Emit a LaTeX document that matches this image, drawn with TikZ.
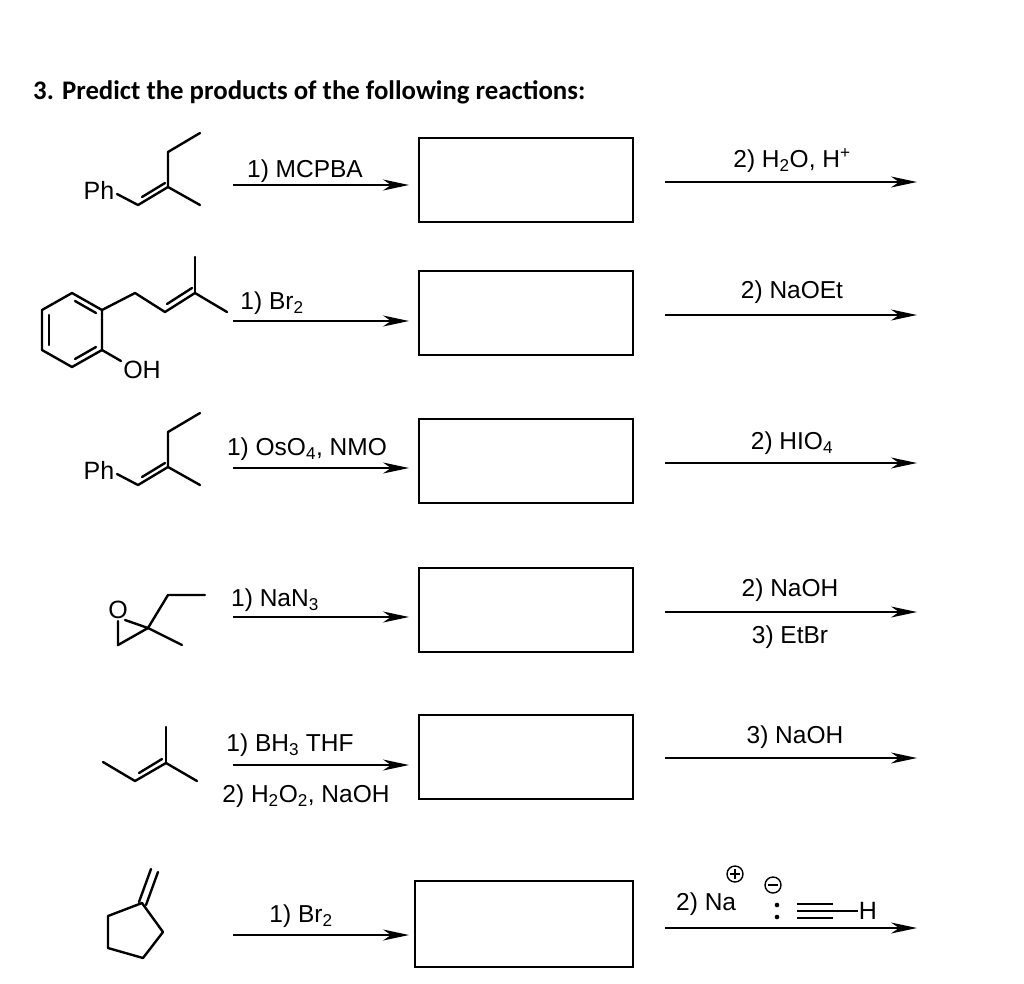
\documentclass[tikz,border=0pt]{standalone}
\usepackage{fontspec}
\setmainfont{Liberation Sans}
\newfontfamily\calfont{Carlito}
\usetikzlibrary{arrows.meta}
\newcommand{\sbs}[1]{\textsubscript{#1}}
\newcommand{\sps}[1]{\textsuperscript{#1}}
\begin{document}
\begin{tikzpicture}[x=1pt,y=-1pt,
  bond/.style={line width=2.4pt,line cap=round,line join=round},
  arr/.style={line width=1.4pt,-{Stealth[length=26pt,width=11pt,inset=8pt]}},
  box/.style={draw,line width=2pt},
  lab/.style={font=\fontsize{24.5}{26}\selectfont,inner sep=0pt},
  atom/.style={font=\fontsize{25}{26}\selectfont,inner sep=0pt}]
\useasboundingbox (0,0) rectangle (1024,983);
\node[anchor=west,inner sep=0pt,font=\calfont\bfseries\fontsize{26.8}{30}\selectfont] (title) at (33,92) {3. Predict the products of the following reactions:};
% row molecules 1 and 3
\foreach \dy/\n in {0/a,280/c}{
\node[atom] (ph\n) at (99,190+\dy) {Ph};
\draw[bond] (117,194+\dy) -- (138,205+\dy) -- (168,187+\dy) -- (200,205+\dy);
\draw[bond] (142,197+\dy) -- (165,183+\dy);
\draw[bond] (168,187+\dy) -- (168,152+\dy) -- (200,133+\dy);
}
% molecule 2
\draw[bond] (72,293) -- (102,310) -- (102,350) -- (72,367) -- (42,350) -- (42,310) -- cycle;
\draw[bond] (49,315) -- (49,345);
\draw[bond] (75,301) -- (96,313);
\draw[bond] (75,359) -- (96,347);
\draw[bond] (102,350) -- (121,361);
\node[atom] (oh) at (142,370) {OH};
\draw[bond] (102,310) -- (135,293) -- (165,312) -- (195,293) -- (227,312);
\draw[bond] (167,304) -- (192,288);
\draw[bond] (195,293) -- (195,257);
% molecule 4 epoxide
\node[atom] (ox) at (118,610) {O};
\draw[bond] (125,620) -- (148,628) -- (118,645) -- (118,621);
\draw[bond] (148,628) -- (168,595) -- (205,595);
\draw[bond] (148,628) -- (182,645);
% molecule 5
\draw[bond] (103,762) -- (135,781) -- (166,763) -- (197,781);
\draw[bond] (139,773) -- (162,759);
\draw[bond] (166,763) -- (166,727);
% molecule 6
\draw[bond] (142,903) -- (163,932) -- (143,958) -- (108,948) -- (108,916) -- cycle;
\draw[bond] (139,902) -- (151,869);
\draw[bond] (146,905) -- (158,872);
% boxes
\foreach \y/\n in {137/1,270/2,418/3,567/4,714/5}{
  \node[box,minimum width=214pt,minimum height=84pt,anchor=north west] (b\n) at (418,\y) {};}
\node[box,minimum width=218pt,minimum height=86pt,anchor=north west] (b6) at (414,880) {};
% left arrows
\foreach \y/\n in {185/1,321/2,468/3,617/4,765/5,935/6}{
  \coordinate (ls\n) at (233,\y); \coordinate (le\n) at (409,\y);
  \draw[arr] (ls\n) -- (le\n);}
% right arrows
\foreach \y/\n in {182/1,315/2,463/3,612/4,758/5,928/6}{
  \coordinate (rs\n) at (665,\y); \coordinate (re\n) at (917,\y);
  \draw[arr] (rs\n) -- (re\n);}
% labels
\node[lab] (l1) at (305,171) {1) MCPBA};
\node[lab] (l2) at (272,303) {1) Br\sbs{2}};
\node[lab] (l3) at (307,449) {1) OsO\sbs{4}, NMO};
\node[lab] (l4) at (275,600) {1) NaN\sbs{3}};
\node[lab] (l5a) at (290,745) {1) BH\sbs{3} THF};
\node[lab] (l5b) at (306,796) {2) H\sbs{2}O\sbs{2}, NaOH};
\node[lab] (l6) at (301,916) {1) Br\sbs{2}};
\node[lab] (r1) at (792,161) {2) H\sbs{2}O, H\sps{+}};
\node[lab] (r2) at (792,292) {2) NaOEt};
\node[lab] (r3) at (792,443) {2) HIO\sbs{4}};
\node[lab] (r4a) at (790,590) {2) NaOH};
\node[lab] (r4b) at (790,637) {3) EtBr};
\node[lab] (r5) at (795,737) {3) NaOH};
\node[lab,anchor=west] (r6) at (676,904) {2) Na};
\node[draw,circle,line width=1.4pt,minimum size=16pt,inner sep=0pt] (plus) at (735,874) {};
\draw[line width=1.4pt] (730,874) -- (740,874) (735,869) -- (735,879);
\node[draw,circle,line width=1.4pt,minimum size=16pt,inner sep=0pt] (minus) at (773,885) {};
\draw[line width=1.4pt] (768,885) -- (778,885);
\fill (777,905) circle (2.3pt) (777,917) circle (2.3pt);
\draw[bond,line cap=butt] (797,904) -- (833,904) (797,911) -- (833,911) (797,918) -- (833,918);
\draw[bond,line cap=butt] (833,911) -- (858,911);
\node[atom] (h) at (868,911) {H};
\end{tikzpicture}
\end{document}
